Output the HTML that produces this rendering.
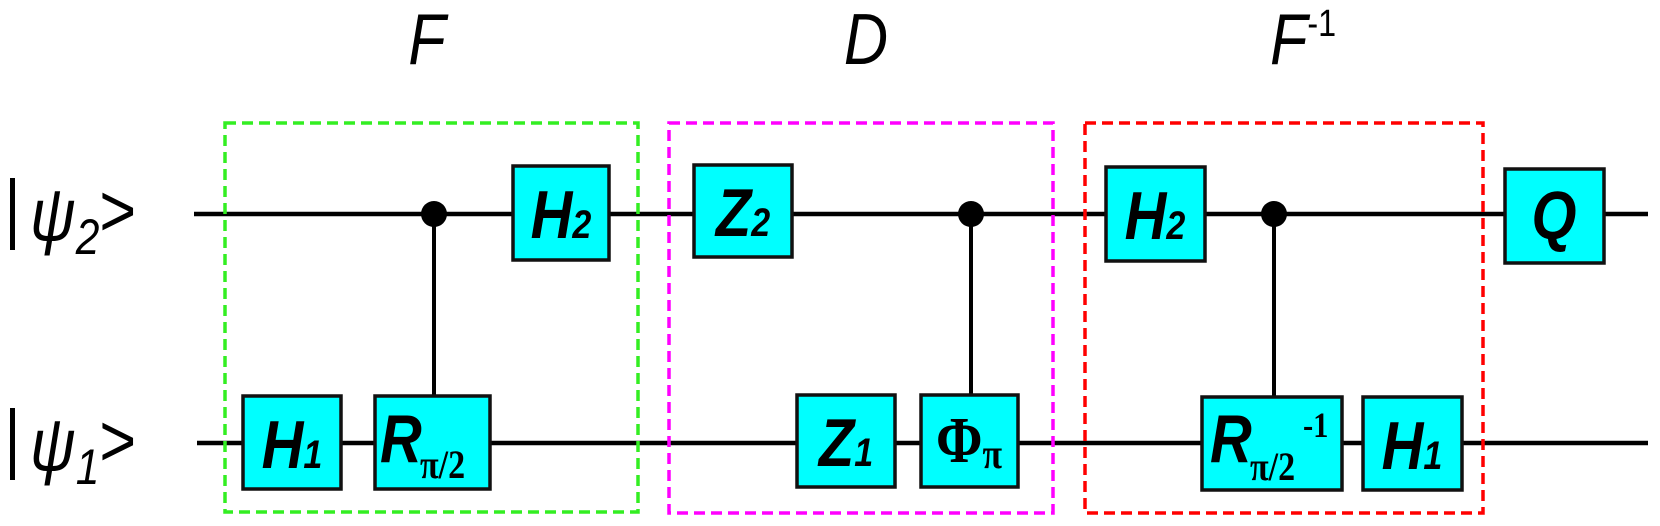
<!DOCTYPE html>
<html><head><meta charset="utf-8"><style>
html,body{margin:0;padding:0;background:#fff;}
svg{display:block;}
.g{fill:#00ffff;stroke:#111;stroke-width:3.5;}
.w{stroke:#000;stroke-width:4.5;}
.lbl{font-family:"Liberation Sans",sans-serif;font-weight:bold;font-style:italic;fill:#000;}
.ser{font-family:"Liberation Serif",serif;font-weight:bold;fill:#000;}
.ttl{font-family:"Liberation Sans",sans-serif;font-style:italic;font-size:72px;fill:#000;}
.psi{font-family:"Liberation Sans","DejaVu Sans",sans-serif;font-style:italic;font-size:74px;fill:#000;}
</style></head><body>
<svg width="1660" height="526" viewBox="0 0 1660 526" xmlns="http://www.w3.org/2000/svg">
<!-- titles -->
<text class="ttl" transform="translate(427,64) scale(0.85,1)" text-anchor="middle">F</text>
<text class="ttl" transform="translate(866,64) scale(0.85,1)" text-anchor="middle">D</text>
<text class="ttl" transform="translate(1270,64) scale(0.85,1)">F<tspan font-size="38" font-style="normal" dy="-28">-1</tspan></text>

<!-- psi labels -->
<rect x="10" y="178" width="5" height="72" fill="#000"/>
<text class="psi" transform="translate(30,240) scale(0.85,1)">ψ<tspan font-size="50" dy="14">2</tspan><tspan dy="-18" font-style="normal">&gt;</tspan></text>
<rect x="10" y="408" width="5" height="72" fill="#000"/>
<text class="psi" transform="translate(30,470) scale(0.85,1)">ψ<tspan font-size="50" dy="14">1</tspan><tspan dy="-18" font-style="normal">&gt;</tspan></text>

<!-- wires -->
<line class="w" x1="194" y1="214" x2="1648" y2="214"/>
<line class="w" x1="197" y1="443" x2="1648" y2="443"/>

<!-- dashed boxes -->
<rect x="225" y="123" width="413" height="389" fill="none" stroke="#33ee22" stroke-width="3.5" stroke-dasharray="11 6"/>
<rect x="669" y="123" width="384" height="390" fill="none" stroke="#ff00ff" stroke-width="3.5" stroke-dasharray="11 6"/>
<rect x="1085" y="123" width="398" height="390" fill="none" stroke="#ff0000" stroke-width="3.5" stroke-dasharray="11 6"/>

<!-- control lines and dots -->
<line x1="434" y1="214" x2="434" y2="396" stroke="#000" stroke-width="4"/>
<circle cx="434" cy="214" r="13" fill="#000"/>
<line x1="971" y1="214" x2="971" y2="396" stroke="#000" stroke-width="4"/>
<circle cx="971" cy="214" r="13" fill="#000"/>
<line x1="1274" y1="214" x2="1274" y2="397" stroke="#000" stroke-width="4"/>
<circle cx="1274" cy="214" r="13" fill="#000"/>

<!-- F gates -->
<rect class="g" x="243" y="396" width="98" height="93"/>
<text class="lbl" transform="translate(292,468) scale(0.85,1)" text-anchor="middle" font-size="68">H<tspan font-size="40">1</tspan></text>
<rect class="g" x="375" y="396" width="115" height="93"/>
<text class="lbl" transform="translate(380,462) scale(0.85,1)" font-size="68">R</text>
<text class="ser" transform="translate(420,478) scale(0.85,1)" font-size="40">π/2</text>
<rect class="g" x="513" y="166" width="96" height="94"/>
<text class="lbl" transform="translate(561,238) scale(0.85,1)" text-anchor="middle" font-size="68">H<tspan font-size="40">2</tspan></text>

<!-- D gates -->
<rect class="g" x="694" y="165" width="98" height="92"/>
<text class="lbl" transform="translate(743,236) scale(0.85,1)" text-anchor="middle" font-size="68">Z<tspan font-size="40">2</tspan></text>
<rect class="g" x="797" y="395" width="98" height="92"/>
<text class="lbl" transform="translate(846,466) scale(0.85,1)" text-anchor="middle" font-size="68">Z<tspan font-size="40">1</tspan></text>
<rect class="g" x="921" y="395" width="97" height="92"/>
<text class="ser" transform="translate(969,462) scale(0.85,1)" text-anchor="middle" font-size="66">Φ<tspan font-size="42" dy="6">π</tspan></text>

<!-- F^-1 gates -->
<rect class="g" x="1106" y="167" width="99" height="94"/>
<text class="lbl" transform="translate(1155,239) scale(0.85,1)" text-anchor="middle" font-size="68">H<tspan font-size="40">2</tspan></text>
<rect class="g" x="1202" y="397" width="140" height="93"/>
<text class="lbl" transform="translate(1210,462) scale(0.85,1)" font-size="68">R</text>
<text class="ser" transform="translate(1250,480) scale(0.85,1)" font-size="40">π/2</text>
<text class="ser" transform="translate(1303,437) scale(0.85,1)" font-size="36">-1</text>
<rect class="g" x="1363" y="397" width="99" height="93"/>
<text class="lbl" transform="translate(1412,469) scale(0.85,1)" text-anchor="middle" font-size="68">H<tspan font-size="40">1</tspan></text>

<!-- Q -->
<rect class="g" x="1505" y="169" width="99" height="94"/>
<text class="lbl" transform="translate(1554,239) scale(0.85,1)" text-anchor="middle" font-size="68">Q</text>
</svg>
</body></html>
